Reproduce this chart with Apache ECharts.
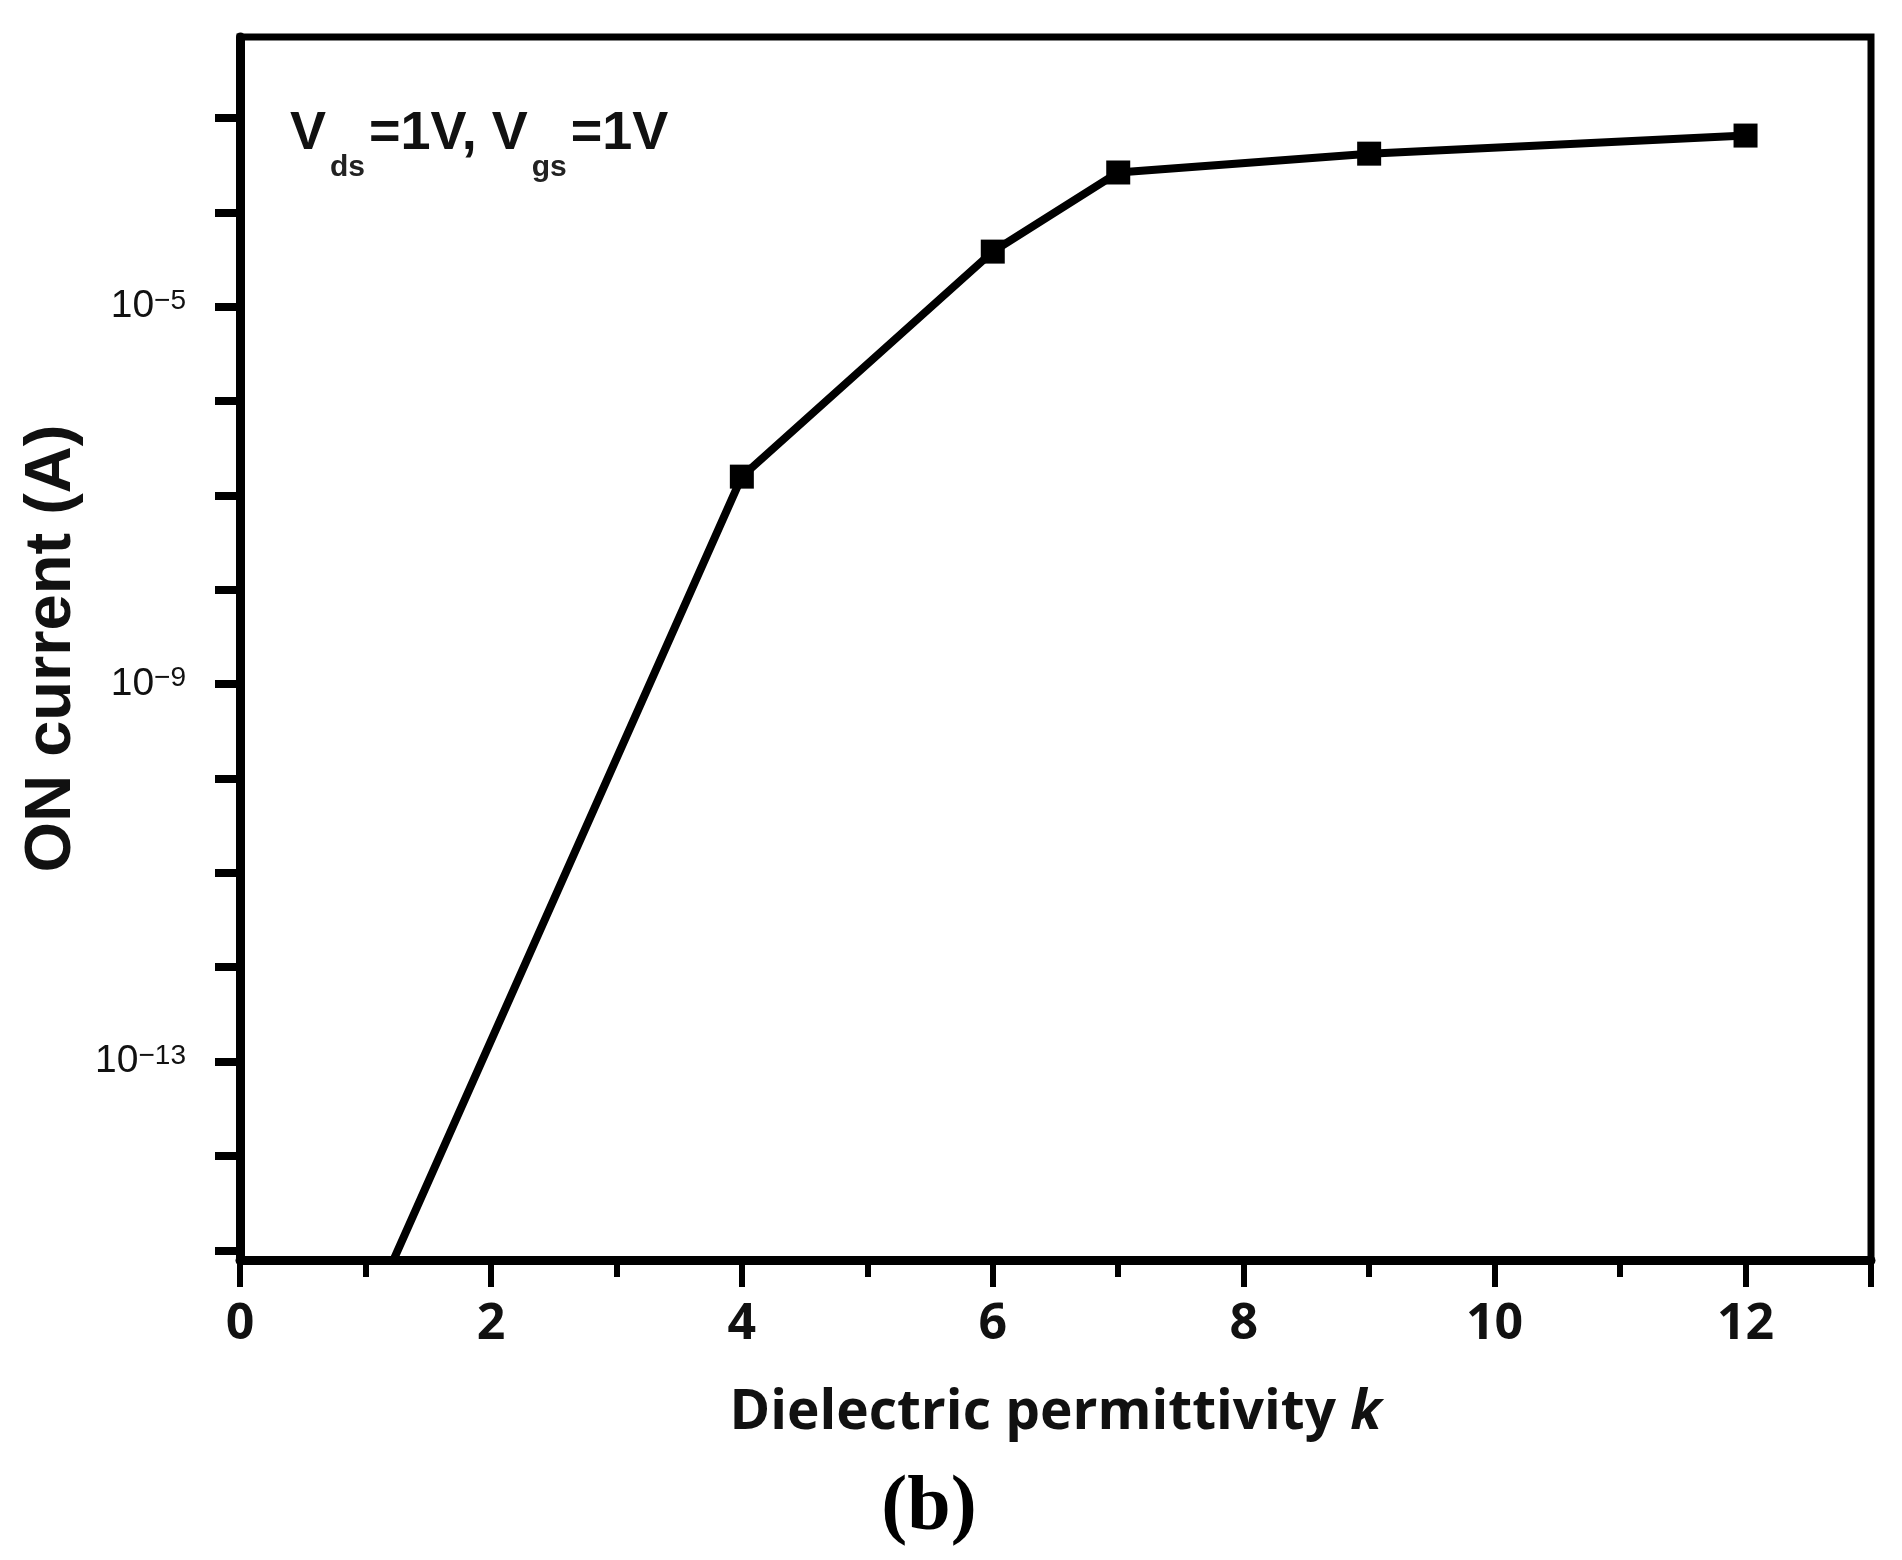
<!DOCTYPE html>
<html><head><meta charset="utf-8">
<script src="https://cdn.jsdelivr.net/npm/echarts@6/dist/echarts.min.js"></script>
<style>html,body{margin:0;padding:0;background:#fff}#chart{width:1902px;height:1560px}</style>
</head><body><div id="chart"></div>
<script>
// ---- data ----
const kValues = [1, 4, 6, 7, 9, 12];
const onCurrent = [1.7e-16, 1.58e-7, 3.83e-5, 2.64e-4, 4.18e-4, 6.5e-4];
const xLabelValues = [0, 2, 4, 6, 8, 10, 12];
const xMajorTicks = [0, 2, 4, 6, 8, 10, 12, 13];
const xMinorTicks = [1, 3, 5, 7, 9, 11];
const xRange = [0, 13];
const yTickValues = [1e-15, 1e-14, 1e-13, 1e-12, 1e-11, 1e-10, 1e-9, 1e-8, 1e-7, 1e-6, 1e-5, 1e-4, 1e-3];
const yLabelValues = [1e-13, 1e-9, 1e-5];
const yRange = [7.9e-16, 7.2e-3];

const chart = echarts.init(document.getElementById('chart'), null, {renderer: 'canvas'});
const gridBox = {left: 240, right: 31, top: 37, bottom: 300};
const pairs = kValues.map((k, i) => [k, onCurrent[i]]);

chart.setOption({
  backgroundColor: '#fff',
  animation: false,
  grid: [
    Object.assign({show: true, borderColor: '#000', borderWidth: 7, containLabel: false}, gridBox),
    Object.assign({show: false, containLabel: false}, gridBox)
  ],
  xAxis: [{
    type: 'value', gridIndex: 0, min: xRange[0], max: xRange[1],
    name: '{n|Dielectric permittivity }{k|k}',
    nameLocation: 'middle', nameGap: 126,
    nameTextStyle: {
      rich: {
        n: {fontFamily: 'Open Sans', fontWeight: 'bold', fontSize: 55, color: '#111'},
        k: {fontFamily: 'Open Sans', fontWeight: 'bold', fontStyle: 'italic', fontSize: 55, color: '#111'}
      }
    },
    axisLine: {show: true, onZero: false, lineStyle: {color: '#000', width: 9}},
    axisTick: {show: true, inside: false, length: 27, customValues: xMajorTicks, lineStyle: {color: '#000', width: 6}},
    axisLabel: {show: true, customValues: xLabelValues, margin: 40, fontFamily: 'Open Sans', fontWeight: 'bold', fontSize: 50, color: '#111'},
    splitLine: {show: false}
  }, {
    type: 'value', gridIndex: 1, min: xRange[0], max: xRange[1],
    axisLine: {show: false},
    axisTick: {show: true, inside: false, length: 17, customValues: xMinorTicks, lineStyle: {color: '#000', width: 6}},
    axisLabel: {show: false},
    splitLine: {show: false}
  }],
  yAxis: [{
    type: 'log', logBase: 10, gridIndex: 0, min: yRange[0], max: yRange[1],
    name: 'ON current (A)',
    nameLocation: 'middle', nameGap: 145,
    nameTextStyle: {fontFamily: 'Liberation Sans', fontWeight: 'bold', fontSize: 65, color: '#111'},
    axisLine: {show: true, onZero: false, lineStyle: {color: '#000', width: 9}},
    axisTick: {show: true, inside: false, length: 25, customValues: yTickValues, lineStyle: {color: '#000', width: 8}},
    axisLabel: {
      show: true, customValues: yLabelValues, margin: 54,
      formatter: function (v) {
        const e = Math.round(Math.log10(v));
        return '{m|10}{s|\u2212' + Math.abs(e) + '}';
      },
      rich: {
        m: {fontFamily: 'Liberation Sans', fontSize: 39, lineHeight: 39, color: '#111'},
        s: {fontFamily: 'Liberation Sans', fontSize: 28, lineHeight: 28, verticalAlign: 'top', color: '#111'}
      }
    },
    splitLine: {show: false}
  }, {
    type: 'log', gridIndex: 1, min: yRange[0], max: yRange[1], show: false
  }],
  graphic: [{
    type: 'text', left: 290, top: 85,
    style: {
      text: '{v|V}{s|ds}{v|=1V, V}{s|gs}{v|=1V}',
      rich: {
        v: {fontFamily: 'Liberation Sans', fontWeight: 'bold', fontSize: 54, lineHeight: 54, fill: '#111'},
        s: {fontFamily: 'Liberation Sans Narrow, Liberation Sans', fontWeight: 'bold', fontSize: 30, lineHeight: 30, padding: [68, 4, 0, 4], fill: '#222'}
      }
    }
  }, {
    type: 'text', x: 929, y: 1470,
    style: {
      text: '(b)',
      font: 'bold 78px "Liberation Serif", "DejaVu Serif", serif',
      textAlign: 'center', textVerticalAlign: 'top',
      fill: '#000'
    }
  }],
  series: [{
    type: 'line', xAxisIndex: 0, yAxisIndex: 0,
    data: pairs,
    clip: true,
    symbol: 'rect', symbolSize: 24,
    showAllSymbol: true,
    lineStyle: {color: '#000', width: 8},
    itemStyle: {color: '#000'},
    z: 5
  }]
});
</script></body></html>
